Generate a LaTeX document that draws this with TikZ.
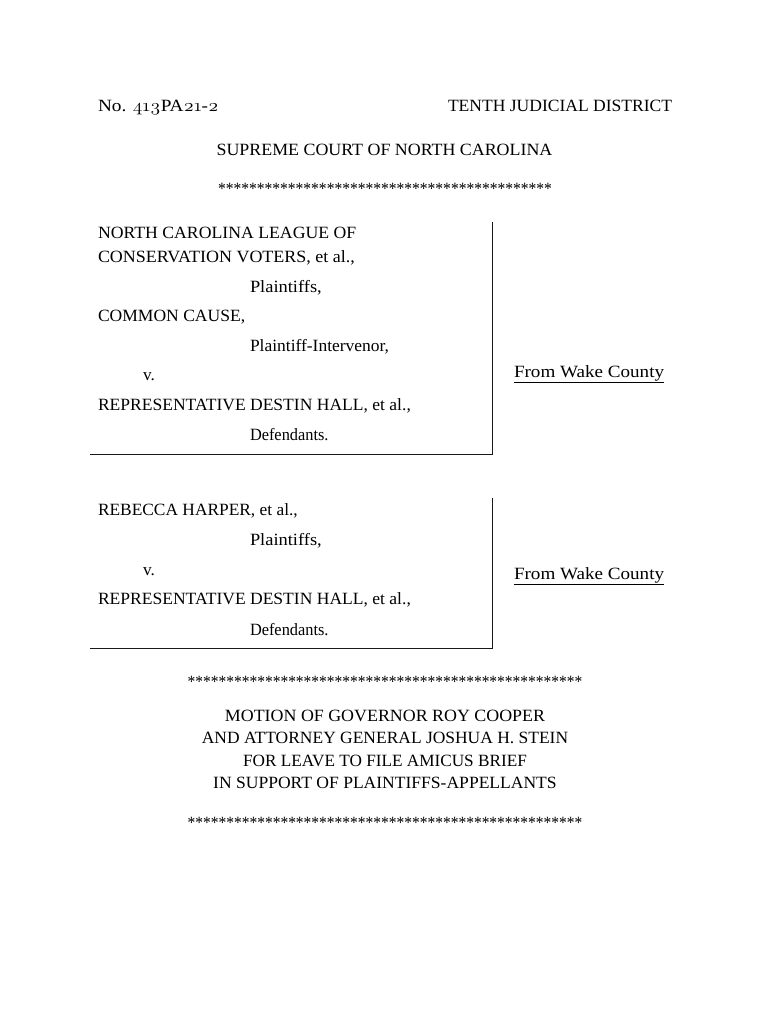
\documentclass[tikz,border=0pt]{standalone}
\usepackage{fontspec}
\setmainfont{Liberation Serif}
\newfontfamily\osf[Numbers=OldStyle]{Latin Modern Roman}
\tikzset{x=0.75pt,y=-0.75pt,
 txt/.style={inner sep=0pt,outer sep=0pt,font=\fontsize{12.9pt}{15pt}\selectfont,anchor=base west,transform shape},
 ctr/.style={txt,anchor=base},
 sx/.style={xscale=#1},
 rule/.style={line width=0.6pt,draw=black!90}}
\newcommand{\ul}[1]{\underline{#1}}
\begin{document}
\begin{tikzpicture}
\useasboundingbox[fill=white] (0,0) rectangle (768,1024);
\node[txt,sx=1.12] (a1) at (98,111) {No. {\osf 413}PA{\osf 21}-{\osf 2}};
\node[txt,sx=1.02] (a2) at (448,111) {TENTH JUDICIAL DISTRICT};
\node[ctr,sx=1.04] (a3) at (384.5,155) {SUPREME COURT OF NORTH CAROLINA};
\node[ctr,sx=0.903] (a4) at (385,194) {*******************************************};
\node[txt,sx=1.03] (b1) at (98,238) {NORTH CAROLINA LEAGUE OF};
\node[txt,sx=1.045] (b2) at (98,262) {CONSERVATION VOTERS, et al.,};
\node[txt,sx=1.07] (b3) at (250,292) {Plaintiffs,};
\node[txt,sx=1.02] (b4) at (98,321) {COMMON CAUSE,};
\node[txt,sx=1.015] (b5) at (250,351) {Plaintiff-Intervenor,};
\node[txt,sx=1.0] (b6) at (143,380) {v.};
\node[txt,sx=1.02] (b7) at (98,410) {REPRESENTATIVE DESTIN HALL, et al.,};
\node[txt,sx=0.95] (b8) at (250,440) {Defendants.};
\node[txt,sx=1.11] (b9) at (514,377) {\ul{From Wake County}};
\node[txt,sx=1.01] (c1) at (98,515) {REBECCA HARPER, et al.,};
\node[txt,sx=1.07] (c2) at (250,545) {Plaintiffs,};
\node[txt,sx=1.0] (c3) at (143,575) {v.};
\node[txt,sx=1.02] (c4) at (98,604) {REPRESENTATIVE DESTIN HALL, et al.,};
\node[txt,sx=0.95] (c5) at (250,635) {Defendants.};
\node[txt,sx=1.11] (c6) at (514,579) {\ul{From Wake County}};
\node[ctr,sx=0.9] (d1) at (385,687) {***************************************************};
\node[ctr,sx=1.04] (d2) at (385,721) {MOTION OF GOVERNOR ROY COOPER};
\node[ctr,sx=1.015] (d3) at (385,743) {AND ATTORNEY GENERAL JOSHUA H. STEIN};
\node[ctr,sx=1.0] (d4) at (385,766) {FOR LEAVE TO FILE AMICUS BRIEF};
\node[ctr,sx=1.02] (d5) at (385,788) {IN SUPPORT OF PLAINTIFFS-APPELLANTS};
\node[ctr,sx=0.9] (d6) at (385,828) {***************************************************};
\draw[rule] (492.5,222) -- (492.5,454) -- (90,454);
\draw[rule] (492.5,498) -- (492.5,648) -- (90,648);
\end{tikzpicture}
\end{document}
